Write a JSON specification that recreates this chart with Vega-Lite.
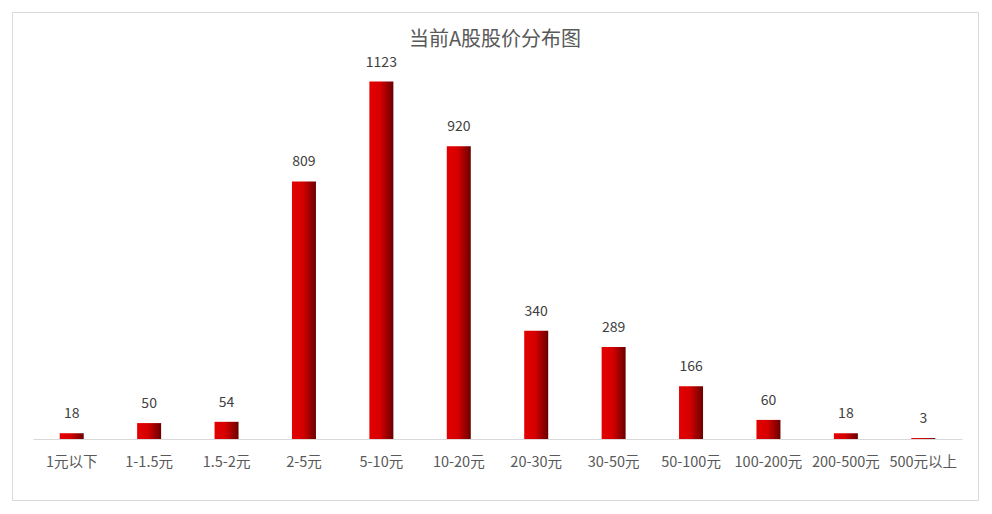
{
  "$schema": "https://vega.github.io/schema/vega-lite/v6.json",
  "autosize": {"type": "none"},
  "width": 966,
  "height": 488,
  "padding": {"left": 12, "top": 12, "right": 14, "bottom": 14},
  "background": "#ffffff",
  "config": {
    "view": {"stroke": "#d9d9d9", "strokeWidth": 1},
    "font": "Noto Sans CJK SC"
  },
  "title": {
    "text": "当前A股股价分布图",
    "anchor": "middle",
    "fontSize": 20,
    "fontWeight": "normal",
    "color": "#595959",
    "font": "Noto Sans CJK SC",
    "offset": -38
  },
  "data": {
    "values": [
      {"range": "1元以下", "count": 18},
      {"range": "1-1.5元", "count": 50},
      {"range": "1.5-2元", "count": 54},
      {"range": "2-5元", "count": 809},
      {"range": "5-10元", "count": 1123},
      {"range": "10-20元", "count": 920},
      {"range": "20-30元", "count": 340},
      {"range": "30-50元", "count": 289},
      {"range": "50-100元", "count": 166},
      {"range": "100-200元", "count": 60},
      {"range": "200-500元", "count": 18},
      {"range": "500元以上", "count": 3}
    ]
  },
  "encoding": {
    "x": {
      "field": "range",
      "type": "nominal",
      "sort": null,
      "scale": {"range": [21, 950], "paddingInner": 0.69, "paddingOuter": 0.345},
      "axis": {
        "title": null,
        "offset": -61,
        "ticks": false,
        "labelAngle": 0,
        "labelFontSize": 14.5,
        "labelColor": "#595959",
        "labelPadding": 16,
        "domainColor": "#d9d9d9",
        "domainWidth": 1,
        "labelFont": "Noto Sans CJK SC"
      }
    },
    "y": {
      "field": "count",
      "type": "quantitative",
      "scale": {"domain": [0, 1200], "range": [427, 45], "nice": false},
      "axis": null
    }
  },
  "layer": [
    {
      "mark": {
        "type": "bar",
        "color": {
          "gradient": "linear",
          "x1": 0, "y1": 0, "x2": 1, "y2": 0,
          "stops": [
            {"offset": 0, "color": "#e40000"},
            {"offset": 0.45, "color": "#d60000"},
            {"offset": 1, "color": "#6a0000"}
          ]
        }
      }
    },
    {
      "mark": {"type": "text", "baseline": "middle", "dy": -19, "fontSize": 14, "color": "#404040", "font": "Noto Sans CJK SC"},
      "encoding": {"text": {"field": "count", "type": "quantitative"}}
    }
  ]
}
